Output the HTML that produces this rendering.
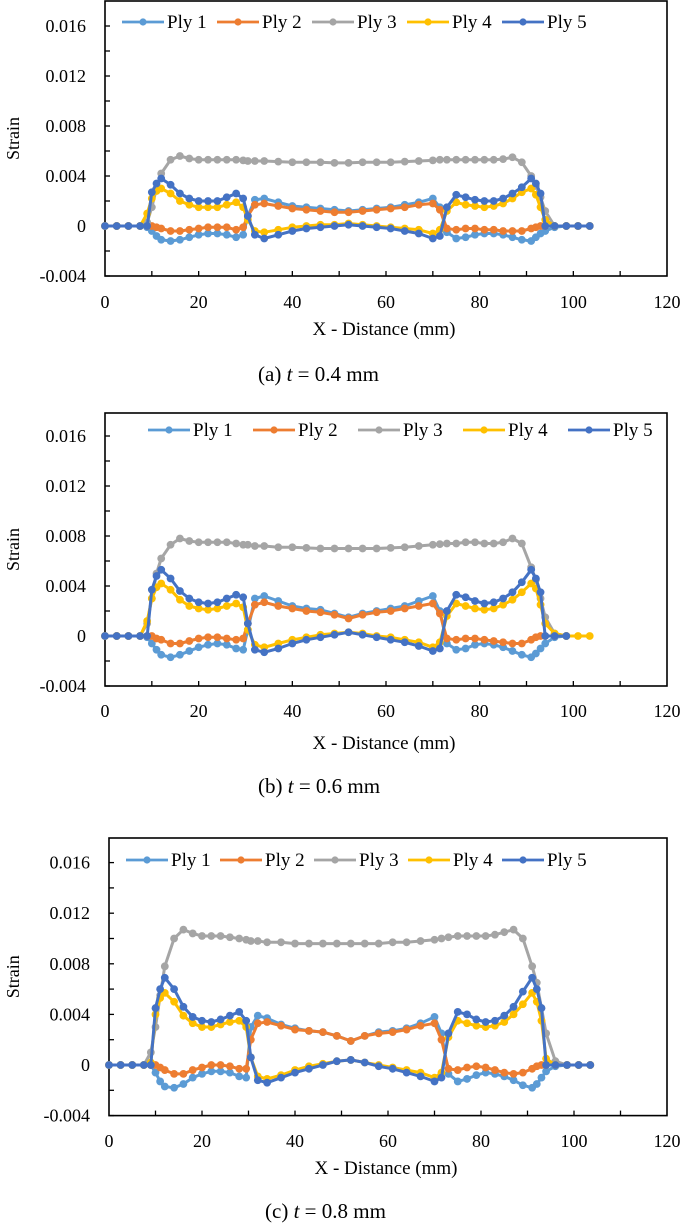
<!DOCTYPE html>
<html>
<head>
<meta charset="utf-8">
<style>
  html,body{margin:0;padding:0;background:#fff;}
  svg{display:block;font-family:"Liberation Serif","DejaVu Serif",serif;}
  svg text{font-family:"Liberation Serif","DejaVu Serif",serif;fill:#000;}
</style>
</head>
<body>
<svg id="fig" width="685" height="1225" viewBox="0 0 685 1225" xmlns="http://www.w3.org/2000/svg" font-family="Liberation Serif, DejaVu Serif, serif"></svg>
<script>
// shared x positions (mm)
const xs = [0,2.5,5,7.5,9,10,11,12,14,16,18,20,22,24,26,28,29.5,30.5,32,34,37,40,43,46,49,52,55,58,61,64,67,70,71.5,73,75,77,79,81,83,85,87,89,91,92,93,94,96,98.5,101,103.5];
const seriesNames = ["Ply 1","Ply 2","Ply 3","Ply 4","Ply 5"];
const yTickLabels = ["-0.004","0","0.004","0.008","0.012","0.016"];
const yTickValues = [-4,0,4,8,12,16]; // x1e-3
const xTickLabels = ["0","20","40","60","80","100","120"];
const xTickValues = [0,20,40,60,80,100,120];
// values in units of 1e-3 strain
const a_ply1 = [0,0,0,0, -0.1,-0.4,-0.8,-1.1, -1.2,-1.1,-0.9,-0.7,-0.6,-0.6,-0.7,-0.9, -0.7,0.8,2.1,2.2, 1.9,1.6,1.5,1.4,1.3,1.2,1.3,1.4,1.5,1.7,1.9,2.2, 1.5,-0.5,-1.0,-0.9,-0.7,-0.6,-0.6,-0.7,-0.9,-1.1,-1.2, -0.9,-0.6,-0.4,-0.1, 0,0,0];
const a_ply2 = [0,0,0,0, 0,0,-0.1,-0.2, -0.4,-0.4,-0.3,-0.2,-0.1,-0.1,-0.1,-0.3, -0.1,0.8,1.7,1.8, 1.6,1.4,1.3,1.2,1.1,1.1,1.2,1.3,1.4,1.5,1.7,1.8, 1.3,-0.2,-0.3,-0.2,-0.2,-0.3,-0.3,-0.4,-0.4,-0.4,-0.2, -0.1,0,0,0, 0,0,0];
const a_ply3 = [0,0,0,0, 0.3,1.5,3.0,4.2, 5.3,5.6,5.4,5.3,5.3,5.3,5.3,5.3, 5.25,5.2,5.2,5.2, 5.15,5.1,5.1,5.1,5.05,5.05,5.1,5.1,5.1,5.15,5.2,5.25, 5.3,5.3,5.3,5.3,5.3,5.3,5.3,5.35,5.5,5.1,4.0, 3.2,2.3,1.2,0, 0,0,0];
const a_ply4 = [0,0,0,0, 1.0,2.2,2.8,3.0, 2.6,2.0,1.7,1.5,1.5,1.5,1.7,1.9, 1.5,0.5,-0.4,-0.5, -0.3,-0.1,0,0.1,0.1,0.2,0.1,0,-0.1,-0.2,-0.3,-0.6, -0.3,1.2,1.9,1.7,1.6,1.5,1.6,1.8,2.2,2.7,3.0, 2.5,1.5,0.5,0, 0,0,0];
const a_ply5 = [0,0,0,0, 0,2.7,3.4,3.8, 3.3,2.6,2.2,2.0,2.0,2.0,2.3,2.6, 2.2,0.8,-0.7,-1.0, -0.7,-0.4,-0.2,-0.1,0,0.1,0,-0.1,-0.2,-0.4,-0.6,-1.0, -0.8,1.5,2.5,2.3,2.1,2.0,2.0,2.2,2.6,3.1,3.8, 3.4,2.6,0,0, 0,0,0];

const b_ply1 = [0,0,0,0, -0.1,-0.6,-1.1,-1.5, -1.7,-1.5,-1.2,-0.9,-0.7,-0.6,-0.7,-1.0, -1.1,0.5,3.0,3.2, 2.8,2.4,2.2,2.1,1.8,1.5,1.8,2.0,2.2,2.4,2.8,3.2, 2.0,-0.6,-1.1,-1.0,-0.7,-0.6,-0.7,-0.9,-1.2,-1.5,-1.7, -1.4,-1.0,-0.6,-0.1, 0,null,null];
const b_ply2 = [0,0,0,0, 0,0,-0.2,-0.3, -0.6,-0.6,-0.4,-0.2,-0.1,-0.1,-0.2,-0.3, -0.2,1.0,2.5,2.7, 2.4,2.2,2.0,1.9,1.7,1.4,1.7,1.9,2.0,2.2,2.4,2.6, 1.8,-0.2,-0.3,-0.2,-0.2,-0.3,-0.4,-0.5,-0.6,-0.6,-0.3, -0.1,0,0,0, 0,null,null];
const b_ply3 = [0,0,0,0, 1.0,3.0,5.0,6.2, 7.3,7.8,7.6,7.5,7.5,7.5,7.5,7.4, 7.3,7.3,7.2,7.2, 7.1,7.1,7.05,7.0,7.0,7.0,7.0,7.0,7.05,7.1,7.2,7.3, 7.35,7.4,7.4,7.5,7.5,7.4,7.4,7.5,7.8,7.4,5.5, 4.5,3.0,1.5,0.2, 0,null,null];
const b_ply4 = [0,0,0,0, 1.2,3.0,3.9,4.2, 3.7,2.9,2.4,2.2,2.1,2.2,2.4,2.6, 2.3,0.5,-0.7,-0.9, -0.6,-0.3,-0.1,0.1,0.2,0.3,0.2,0,-0.1,-0.3,-0.5,-0.9, -0.5,1.6,2.6,2.4,2.2,2.1,2.2,2.5,2.9,3.5,4.2, 3.8,2.5,1.0,0.2, 0,0,0];
const b_ply5 = [0,0,0,0, 0,3.7,4.8,5.3, 4.6,3.6,3.0,2.7,2.6,2.7,3.0,3.3, 3.1,1.0,-1.1,-1.3, -1.0,-0.6,-0.3,-0.1,0.1,0.3,0.1,-0.1,-0.3,-0.5,-0.8,-1.2, -1.0,2.0,3.3,3.1,2.8,2.6,2.7,3.0,3.5,4.3,5.3, 4.6,3.5,0,0, 0,null,null];

const c_ply1 = [0,0,0,0, 0,-0.6,-1.3,-1.7, -1.8,-1.5,-1.0,-0.7,-0.5,-0.5,-0.6,-0.9, -1.0,3.0,3.9,3.7, 3.2,2.9,2.7,2.6,2.3,1.9,2.3,2.6,2.7,2.9,3.3,3.8, 2.5,-0.7,-1.3,-1.1,-0.8,-0.6,-0.7,-0.9,-1.2,-1.6,-1.8, -1.5,-1.0,-0.5,-0.1, 0,0,0];
const c_ply2 = [0,0,0,0, 0,0,-0.2,-0.4, -0.7,-0.7,-0.4,-0.2,0,0,-0.1,-0.3, -0.3,2.0,3.3,3.4, 3.1,2.8,2.7,2.6,2.3,1.9,2.3,2.5,2.6,2.8,3.1,3.3, 2.0,-0.3,-0.4,-0.2,-0.1,-0.2,-0.4,-0.6,-0.7,-0.6,-0.3, -0.1,0,0,0, 0,0,0];
const c_ply3 = [0,0,0,0, 1.0,3.0,5.5,7.8, 10.0,10.7,10.4,10.2,10.2,10.2,10.1,10.0, 9.9,9.8,9.8,9.7, 9.7,9.6,9.6,9.6,9.6,9.6,9.6,9.6,9.7,9.7,9.8,9.9, 10.0,10.1,10.2,10.2,10.2,10.2,10.3,10.5,10.7,10.0,7.8, 6.5,4.5,2.5,0.3, 0,0,0];
const c_ply4 = [0,0,0,0, 0.2,4.0,5.3,5.7, 5.0,3.9,3.3,3.0,3.0,3.2,3.4,3.5, 3.0,0.6,-0.9,-1.1, -0.8,-0.4,-0.1,0.1,0.3,0.4,0.2,0,-0.2,-0.4,-0.6,-1.0, -0.6,2.2,3.5,3.3,3.1,3.0,3.1,3.4,4.0,4.8,5.7, 5.0,3.5,0.5,0, 0,0,0];
const c_ply5 = [0,0,0,0, 0,4.5,6.0,6.9, 6.0,4.6,3.8,3.5,3.4,3.6,3.9,4.2, 3.5,0.6,-1.2,-1.4, -1.0,-0.6,-0.3,0,0.3,0.4,0.2,-0.1,-0.3,-0.6,-0.9,-1.3, -1.0,2.5,4.2,4.0,3.6,3.4,3.5,3.9,4.6,5.8,6.9, 6.0,4.5,0,0, 0,0,0];

const colors = ["#5B9BD5","#ED7D31","#A5A5A5","#FFC000","#4472C4"];
const FONT = "Liberation Serif, DejaVu Serif, serif";
const NS = "http://www.w3.org/2000/svg";
const svg = document.getElementById("fig");

function mk(tag, attrs, parent){
  const e = document.createElementNS(NS, tag);
  for (const k in attrs) e.setAttribute(k, attrs[k]);
  if (tag === "text") e.setAttribute("font-family", FONT);
  (parent||svg).appendChild(e);
  return e;
}

const panels = [
  {id:"a", left:105, right:667, top:1, y0:226, per:12.5, tickY:308, titleY:335, capY:381, legY:22, legX:122, legStep:95,
   cap:["(a) ","t"," = 0.4 mm"], capX:258, series:[a_ply1,a_ply2,a_ply3,a_ply4,a_ply5]},
  {id:"b", left:105, right:667, top:413, y0:636, per:12.5, tickY:717, titleY:749, capY:793, legY:430, legX:148, legStep:105,
   cap:["(b)  ","t"," = 0.6 mm"], capX:258, series:[b_ply1,b_ply2,b_ply3,b_ply4,b_ply5]},
  {id:"c", left:109, right:667, top:838, y0:1065, per:12.65, tickY:1147, titleY:1174, capY:1218, legY:860, legX:126, legStep:94,
   cap:["(c)  ","t"," = 0.8 mm"], capX:265, series:[c_ply1,c_ply2,c_ply3,c_ply4,c_ply5]}
];

panels.forEach(p => {
  const g = mk("g", {});
  
  
  const xScale = v => p.left + (v/120)*(p.right - p.left);
  const yScale = v => p.y0 - v*p.per;
  const bottom = yScale(-4);

  const box = mk("rect", {x:p.left, y:p.top, width:p.right-p.left, height:bottom-p.top, fill:"none", stroke:"#000", "stroke-width":1.6}, g);
  
  

  for (let v=-4; v<=16; v+=2){
    const y = yScale(v);
    const t = mk("line", {x1:p.left, x2:p.left+5, y1:y, y2:y, stroke:"#000", "stroke-width":1.3}, g);
    
    
  }
  yTickValues.forEach((v,i) => {
    const t = mk("text", {x:p.left-19, y:yScale(v)+6, "text-anchor":"end", "font-size":18}, g);
    t.textContent = yTickLabels[i];
    
    
  });
  for (let v=10; v<120; v+=10){
    const x = xScale(v);
    const t = mk("line", {x1:x, x2:x, y1:bottom, y2:bottom-5, stroke:"#000", "stroke-width":1.3}, g);
    
    
  }
  xTickValues.forEach((v,i) => {
    const t = mk("text", {x:xScale(v), y:p.tickY, "text-anchor":"middle", "font-size":18}, g);
    t.textContent = xTickLabels[i];
    
    
  });
  const xt = mk("text", {x:(p.left+p.right)/2 - 2, y:p.titleY, "text-anchor":"middle", "font-size":19}, g);
  xt.textContent = "X - Distance (mm)";
  
  
  const ymid = (p.top + bottom)/2;
  const yt = mk("text", {x:19, y:ymid, "text-anchor":"middle", "font-size":18, transform:"rotate(-90 19 "+ymid+")"}, g);
  yt.textContent = "Strain";
  
  

  const cap = mk("text", {x:p.capX, y:p.capY, "font-size":21}, g);
  
  
  const s1 = mk("tspan", {}, cap); s1.textContent = p.cap[0];
  const s2 = mk("tspan", {"font-style":"italic"}, cap); s2.textContent = p.cap[1];
  const s3 = mk("tspan", {}, cap); s3.textContent = p.cap[2];

  p.series.forEach((vals, si) => {
    const sg = mk("g", {}, g);
    
    
    let d = "";
    vals.forEach((v,i) => {
      if (v === null) return;
      d += (d ? "L" : "M") + xScale(xs[i]).toFixed(1) + " " + yScale(v).toFixed(1);
    });
    mk("path", {d:d, fill:"none", stroke:colors[si], "stroke-width":3, "stroke-linejoin":"round"}, sg);
    vals.forEach((v,i) => {
      if (v === null) return;
      const c = mk("circle", {cx:xScale(xs[i]), cy:yScale(v), r:3.9, fill:colors[si]}, sg);
      
      
    });
  });

  const lg = mk("g", {}, g);
  
  
  seriesNames.forEach((n, si) => {
    const x0 = p.legX + si*p.legStep;
    const e = mk("g", {}, lg);
    
    
    mk("line", {x1:x0, x2:x0+42, y1:p.legY, y2:p.legY, stroke:colors[si], "stroke-width":2.8}, e);
    mk("circle", {cx:x0+21, cy:p.legY, r:3.6, fill:colors[si]}, e);
    const t = mk("text", {x:x0+45, y:p.legY+6, "font-size":19}, e);
    t.textContent = n;
  });
});
</script>
</body>
</html>
